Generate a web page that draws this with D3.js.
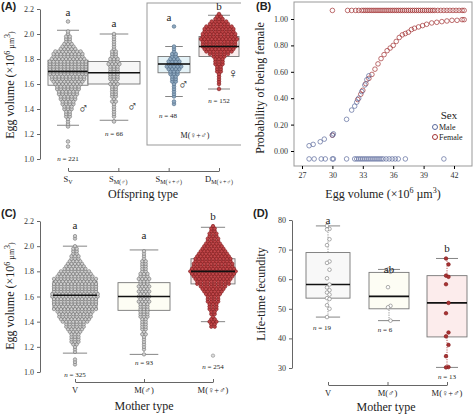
<!DOCTYPE html>
<html><head><meta charset="utf-8">
<script src="https://cdn.jsdelivr.net/npm/d3@7"></script>
<style>
body{margin:0;background:#fff}
text{font-family:"Liberation Serif","Times New Roman",serif;fill:#222}
.tick text{font-size:8px;fill:#333}
.plab{font-family:"Liberation Sans",Arial,sans-serif;font-weight:bold;font-size:11px}
</style></head>
<body><svg id="chart" width="474" height="414"></svg>
<script>
// ---- data ----
// bin counts, step 0.02 starting at the given value (read from the swarms)
const aSV = {start: 1.10, counts: [1,0,1,0,0,0,0,0,1,1,1,1,2,2,2,3,3,4,4,5,5,6,6,7,7,8,9,10,10,11,11,11,11,11,11,10,9,9,8,5,4,3,2,2,2,1,1,0,0,0,1]};
const aSM = {start: 1.30, counts: [1,0,1,1,1,1,1,1,2,1,2,2,2,2,2,3,2,3,3,3,3,3,3,4,3,3,2,2,2,1,1,1,1,1,1,1]};
const aSMM = {start: 1.44, counts: [1,1,0,1,1,1,1,1,1,2,2,2,3,3,4,5,4,4,3,2,2,1,1,1,0,0,0,0,0,0,0,1]};
const aD = {start: 1.56, counts: [1,0,1,1,1,1,1,2,2,2,3,3,3,4,6,8,9,10,10,10,11,10,10,9,9,8,6,5,3,2,1]};
const cV = {start: 1.06, counts: [1,1,1,0,0,1,1,1,2,3,3,3,3,4,5,6,6,8,9,10,10,11,13,12,13,13,13,14,14,13,13,13,13,12,13,11,10,9,7,6,5,4,3,3,2,2,2,1,0,0,1,1]};
const cM = {start: 1.14, counts: [1,0,1,1,1,1,1,1,2,1,2,2,2,2,2,3,3,3,3,3,3,4,3,4,3,4,3,4,3,3,4,3,3,2,2,2,2,2,1,1,1,1]};
const cMM = {start: 1.36, counts: [2,2,3,2,1,2,2,3,3,3,4,4,4,5,6,7,8,10,10,11,12,13,14,13,12,12,11,11,10,9,8,7,6,5,4,4,3,3,2,2,1]};
const cMMextra = [1.13];

// box stats: [lowWhisker, q1, median, q3, highWhisker]
const aStats = [[1.27,1.59,1.70,1.79,2.03],[1.31,1.60,1.69,1.78,2.00],[1.50,1.69,1.76,1.82,1.90],[1.56,1.82,1.90,1.98,2.15]];
const cStats = [[1.15,1.50,1.61,1.72,2.00],[1.14,1.49,1.60,1.71,1.97],[1.40,1.70,1.80,1.90,2.15]];
const dStats = [[47.2,53.6,58.2,69,78],[46,50,54.2,62.3,63.3],[30.2,40.5,52,61.2,67]];
const dV = [78,77,76.8,73.5,71.5,66,65.5,63.2,60.3,58.2,57.2,56.3,55.5,54.8,53.6,53.3,51.2,50,47.2];
const dM = [63.3,62.5,57.3,51,50.5,46];
const dMM = [67,65,61.2,60.8,58.3,52,48.5,42,40.7,37.8,34,30.3,30.2];

const offspringTypes = [["S","V"],["S","M(♂)"],["S","M(♀+♂)"],["D","M(♀+♂)"]];
const motherTypes = ["V","M(♂)","M(♀+♂)"];
const aN = [221,66,48,152], cN = [325,93,254], dN = [19,6,13];
const aLetters = ["a","a","a","b"], cLetters = ["a","a","b"], dLetters = ["a","ab","b"];

// panel B
const maleRow = [27.7,28.2,28.9,29.3,30.0,30.1,31.4,32.2,32.4,32.6,32.8,33.0,33.2,33.4,33.6,33.8,34.0,34.2,34.4,34.6,34.8,35.0,35.3,35.6,35.9,36.2,36.5,37.2,41.0];
const femaleRow = [30.0,31.5,31.9,32.3,32.6,32.9,33.1,33.3,33.5,33.7,33.9,34.1,34.3,34.5,34.7,34.9,35.1,35.3,35.5,35.7,35.9,36.1,36.3,36.5,36.7,36.9,37.1,37.3,37.5,37.7,37.9,38.1,38.3,38.5,38.7,38.9,39.1,39.3,39.5,39.7,39.9,40.1,40.4,40.7,41.0,41.3,41.6,41.9,42.2,42.5,42.8,43.0];
const maleCurveX = [27.7,28.1,28.8,29.2,30.0,30.1,31.4,31.9,32.2,32.4,32.6,32.9,33.2,33.4,33.6];
const maleCurveP = [0.04,0.05,0.07,0.09,0.12,0.13,0.24,0.31,0.34,0.37,0.40,0.45,0.50,0.54,0.57];
const femCurveX = [30.0,32.5,32.8,33.0,33.3,33.6,33.9,34.2,34.5,34.8,35.1,35.4,35.7,36.0,36.3,36.6,36.9,37.2,37.5,37.8,38.1,38.5,38.9,39.3,39.8,40.3,40.8,41.3,41.8,42.3,42.8,43.0];
const femCurveP = [0.12,0.39,0.43,0.46,0.51,0.55,0.58,0.62,0.66,0.70,0.73,0.76,0.78,0.80,0.83,0.86,0.88,0.89,0.90,0.92,0.93,0.94,0.95,0.96,0.97,0.975,0.98,0.985,0.99,0.99,0.995,0.995];

// ---- styles ----
const grey = {fill:"#cfcfcf", stroke:"#6e6e6e", box:"#f6f6f6", wh:"#777"};
const greyC2 = {fill:"#d3d3d3", stroke:"#6e6e6e", box:"#fdfdf4", wh:"#777"};
const blue = {fill:"#8fa9c0", stroke:"#4a6683", box:"#e4f2f7", wh:"#555"};
const red = {fill:"#c0474a", stroke:"#7d1618", box:"#fbeeee", wh:"#7d1618"};
const ink = "#222";

const svg = d3.select("#chart");

function swarm(g, y, cx, bins, st, sp, r) {
  bins.counts.forEach((c, i) => {
    const v = bins.start + i * 0.02;
    for (let k = 0; k < c; k++) {
      g.append("circle").attr("cx", cx + (k - (c - 1) / 2) * sp).attr("cy", y(v))
        .attr("r", r).attr("fill", st.fill).attr("stroke", st.stroke).attr("stroke-width", 0.6);
    }
  });
}
function box(g, y, cx, hw, s, st) {
  g.append("line").attr("x1", cx).attr("x2", cx).attr("y1", y(s[0])).attr("y2", y(s[4]))
    .attr("stroke", st.wh).attr("stroke-dasharray", "1.2,1.2").attr("stroke-width", 0.8);
  [s[0], s[4]].forEach(v => g.append("line").attr("x1", cx - hw * 0.55).attr("x2", cx + hw * 0.55)
    .attr("y1", y(v)).attr("y2", y(v)).attr("stroke", "#666").attr("stroke-width", 0.8));
  g.append("rect").attr("x", cx - hw).attr("width", 2 * hw).attr("y", y(s[3])).attr("height", y(s[1]) - y(s[3]))
    .attr("fill", st.box).attr("stroke", "#777").attr("stroke-width", 0.9);
}
function median(g, y, cx, hw, s) {
  g.append("line").attr("x1", cx - hw).attr("x2", cx + hw).attr("y1", y(s[2])).attr("y2", y(s[2]))
    .attr("stroke", "#111").attr("stroke-width", 1.6);
}
function txt(x, y, s, size) {
  return svg.append("text").attr("x", x).attr("y", y).attr("text-anchor", "middle")
    .attr("font-size", size).attr("fill", ink).text(s);
}
function nLabel(x, y, n) {
  const t = txt(x, y, null, 7);
  t.append("tspan").attr("font-style", "italic").text("n");
  t.append("tspan").text(" = " + n);
}
function leftAxis(y, x, ticks, fmt) {
  const a = svg.append("g").attr("transform", `translate(${x},0)`)
    .call(d3.axisLeft(y).tickValues(ticks).tickFormat(d3.format(fmt)).tickSize(3).tickSizeOuter(0));
  a.select(".domain").attr("stroke", "#666");
  a.selectAll(".tick line").attr("stroke", "#666");
  return a;
}
function bracket(x, yPos, labels, subs) {
  const a = svg.append("g").attr("transform", `translate(0,${yPos})`)
    .call(d3.axisBottom(x).tickSize(-3).tickSizeOuter(0).tickFormat(""));
  a.select(".domain").attr("stroke", "#666");
  a.selectAll(".tick line").attr("stroke", "#666");
  labels.forEach((d, i) => {
    const t = txt(x(x.domain()[i]), yPos + 11, null, 8.5);
    if (subs) {
      t.append("tspan").text(d[0]);
      t.append("tspan").attr("font-size", 6).attr("dy", 2).text(d[1]);
    } else t.text(d);
  });
}
function yTitle(x, y, parts) {
  const t = svg.append("text").attr("transform", `translate(${x},${y}) rotate(-90)`).attr("text-anchor", "middle")
    .attr("font-size", 12).attr("fill", ink);
  parts.forEach(p => t.append("tspan").attr("font-size", p[1] ? 8 : 12).attr("dy", p[1] || 0).text(p[0]));
}

// ---- panel A ----
const yA = d3.scaleLinear([1.0, 2.2], [159, 9]);
const aX = [68, 114, 174, 219], aHW = [20, 26, 16, 20];
const aStyles = [grey, grey, blue, red], aBins = [aSV, aSM, aSMM, aD];
svg.append("rect").attr("x", 147).attr("y", 3).attr("width", 126).attr("height", 142).attr("fill", "none").attr("stroke", "#999");
const gA = svg.append("g");
aX.forEach((cx, i) => {
  box(gA, yA, cx, aHW[i], aStats[i], aStyles[i]);
  swarm(gA, yA, cx, aBins[i], aStyles[i], 3.6, 1.8);
  median(gA, yA, cx, aHW[i], aStats[i]);
});
svg.append("rect").attr("x", 241).attr("y", 2).attr("width", 40).attr("height", 160).attr("fill", "#fff");
leftAxis(yA, 40, d3.range(1.0, 2.21, 0.2), ".1f");
[[68, 16], [114, 27], [169, 21], [219, 10]].forEach((p, i) => txt(p[0], p[1], aLetters[i], 11));
[[68, 161], [114, 136], [168, 118], [219, 103]].forEach((p, i) => nLabel(p[0], p[1], aN[i]));
[[78, 113, "♂"], [127, 111, "♂"], [178, 89, "♂"], [228, 78, "♀"]].forEach(p =>
  svg.append("text").attr("x", p[0]).attr("y", p[1]).attr("font-size", 14).attr("fill", ink)
    .attr("font-family", "DejaVu Sans").text(p[2]));
txt(195, 138, "M(♀+♂)", 8);
bracket(d3.scalePoint(offspringTypes.map((d, i) => i), [68, 219]), 171, offspringTypes, true);
txt(143, 198, "Offspring type", 12);
yTitle(14, 85, [["Egg volume (×10"], ["6", -4], [" µm", 4], ["3", -4], [")", 4]]);
svg.append("text").attr("class", "plab").attr("x", 1).attr("y", 10).text("(A)");

// ---- panel B ----
const xB = d3.scaleLinear([27, 42], [302, 454]);
const yB = d3.scaleLinear([0, 1], [151, 19]);
svg.append("rect").attr("x", 294).attr("y", 2).attr("width", 178).attr("height", 164).attr("fill", "none").attr("stroke", "#999");
const bx = svg.append("g").attr("transform", "translate(0,166)")
  .call(d3.axisBottom(xB).tickValues(d3.range(27, 43, 3)).tickSize(3).tickSizeOuter(0));
bx.select(".domain").remove();
const by = svg.append("g").attr("transform", "translate(294,0)")
  .call(d3.axisLeft(yB).tickValues(d3.range(0, 1.01, 0.2)).tickFormat(d3.format(".2f")).tickSize(3));
by.select(".domain").remove();
const mC = "#5b6a9c", fC = "#a23234";
const pt = (x, p, c) => svg.append("circle").attr("cx", xB(x)).attr("cy", yB(p)).attr("r", 2.3)
  .attr("fill", "none").attr("stroke", c).attr("stroke-width", 0.7);
maleRow.forEach(x => pt(x, -0.06, mC));
femaleRow.forEach(x => pt(x, 1.065, fC));
femCurveX.forEach((x, i) => pt(x, femCurveP[i], fC));
maleCurveX.forEach((x, i) => pt(x, maleCurveP[i], mC));
txt(449, 119, "Sex", 11);
[["Male", mC], ["Female", fC]].forEach((d, i) => {
  svg.append("circle").attr("cx", 435).attr("cy", 127 + i * 10).attr("r", 2.5).attr("fill", "none").attr("stroke", d[1]);
  svg.append("text").attr("x", 439).attr("y", 130 + i * 10).attr("font-size", 8).attr("fill", ink).text(d[0]);
});
txt(383, 198, null, 12)
  .call(t => { t.append("tspan").text("Egg volume (×10"); t.append("tspan").attr("font-size", 8).attr("dy", -5).text("6");
    t.append("tspan").attr("dy", 5).text(" µm"); t.append("tspan").attr("font-size", 8).attr("dy", -5).text("3");
    t.append("tspan").attr("dy", 5).text(")"); });
yTitle(264, 88, [["Probability of being female"]]);
svg.append("text").attr("class", "plab").attr("x", 256).attr("y", 10).text("(B)");

// ---- panel C ----
const yC = d3.scaleLinear([1.0, 2.2], [372, 221]);
const cX = [75, 144, 213], cHW = [22, 26, 22];
const cStyles = [grey, greyC2, red], cBins = [cV, cM, cMM];
const gC = svg.append("g");
cX.forEach((cx, i) => {
  box(gC, yC, cx, cHW[i], cStats[i], cStyles[i]);
  swarm(gC, yC, cx, cBins[i], cStyles[i], 3.5, 1.7);
  median(gC, yC, cx, cHW[i], cStats[i]);
});
cMMextra.forEach(v => gC.append("circle").attr("cx", 213).attr("cy", yC(v)).attr("r", 1.7).attr("fill", "#ddd").attr("stroke", "#888").attr("stroke-width", 0.6));
leftAxis(yC, 40, d3.range(1.0, 2.21, 0.2), ".1f");
[[75, 229], [144, 239], [213, 220]].forEach((p, i) => txt(p[0], p[1], cLetters[i], 11));
[[75, 377], [144, 365], [213, 369]].forEach((p, i) => nLabel(p[0], p[1], cN[i]));
bracket(d3.scalePoint(motherTypes, [75, 213]), 382, motherTypes, false);
txt(144, 410, "Mother type", 12);
yTitle(14, 296, [["Egg volume (×10"], ["6", -4], [" µm", 4], ["3", -4], [")", 4]]);
svg.append("text").attr("class", "plab").attr("x", 1).attr("y", 217).text("(C)");

// ---- panel D ----
const yD = d3.scaleLinear([30, 80], [368, 220]);
const dX = [328, 389, 447], dHW = [22, 20, 20];
const dStyles = [{box:"#f8f8f8", wh:"#777"}, {box:"#fdfdf4", wh:"#777"}, {box:"#fcecec", wh:"#a33"}];
const dPts = [dV, dM, dMM];
const gD = svg.append("g");
dX.forEach((cx, i) => {
  box(gD, yD, cx, dHW[i], dStats[i], dStyles[i]);
  median(gD, yD, cx, dHW[i], dStats[i]);
  dPts[i].forEach((v, k) => gD.append("circle").attr("cx", cx + (k % 2 ? 1.5 : -1)).attr("cy", yD(v)).attr("r", 1.8)
    .attr("fill", i === 2 ? "#a33" : "#fff").attr("stroke", i === 2 ? "#7d1618" : "#777").attr("stroke-width", 0.6));
});
leftAxis(yD, 292, d3.range(30, 81, 10), "d");
[[328, 224], [389, 273], [447, 252]].forEach((p, i) => txt(p[0], p[1], dLetters[i], 11));
[[322, 330], [385, 332], [447, 379]].forEach((p, i) => nLabel(p[0], p[1], dN[i]));
bracket(d3.scalePoint(motherTypes, [328, 447]), 385, motherTypes, false);
txt(386, 411, "Mother type", 12);
yTitle(265, 294, [["Life-time fecundity"]]);
svg.append("text").attr("class", "plab").attr("x", 253).attr("y", 217).text("(D)");
</script></body></html>
